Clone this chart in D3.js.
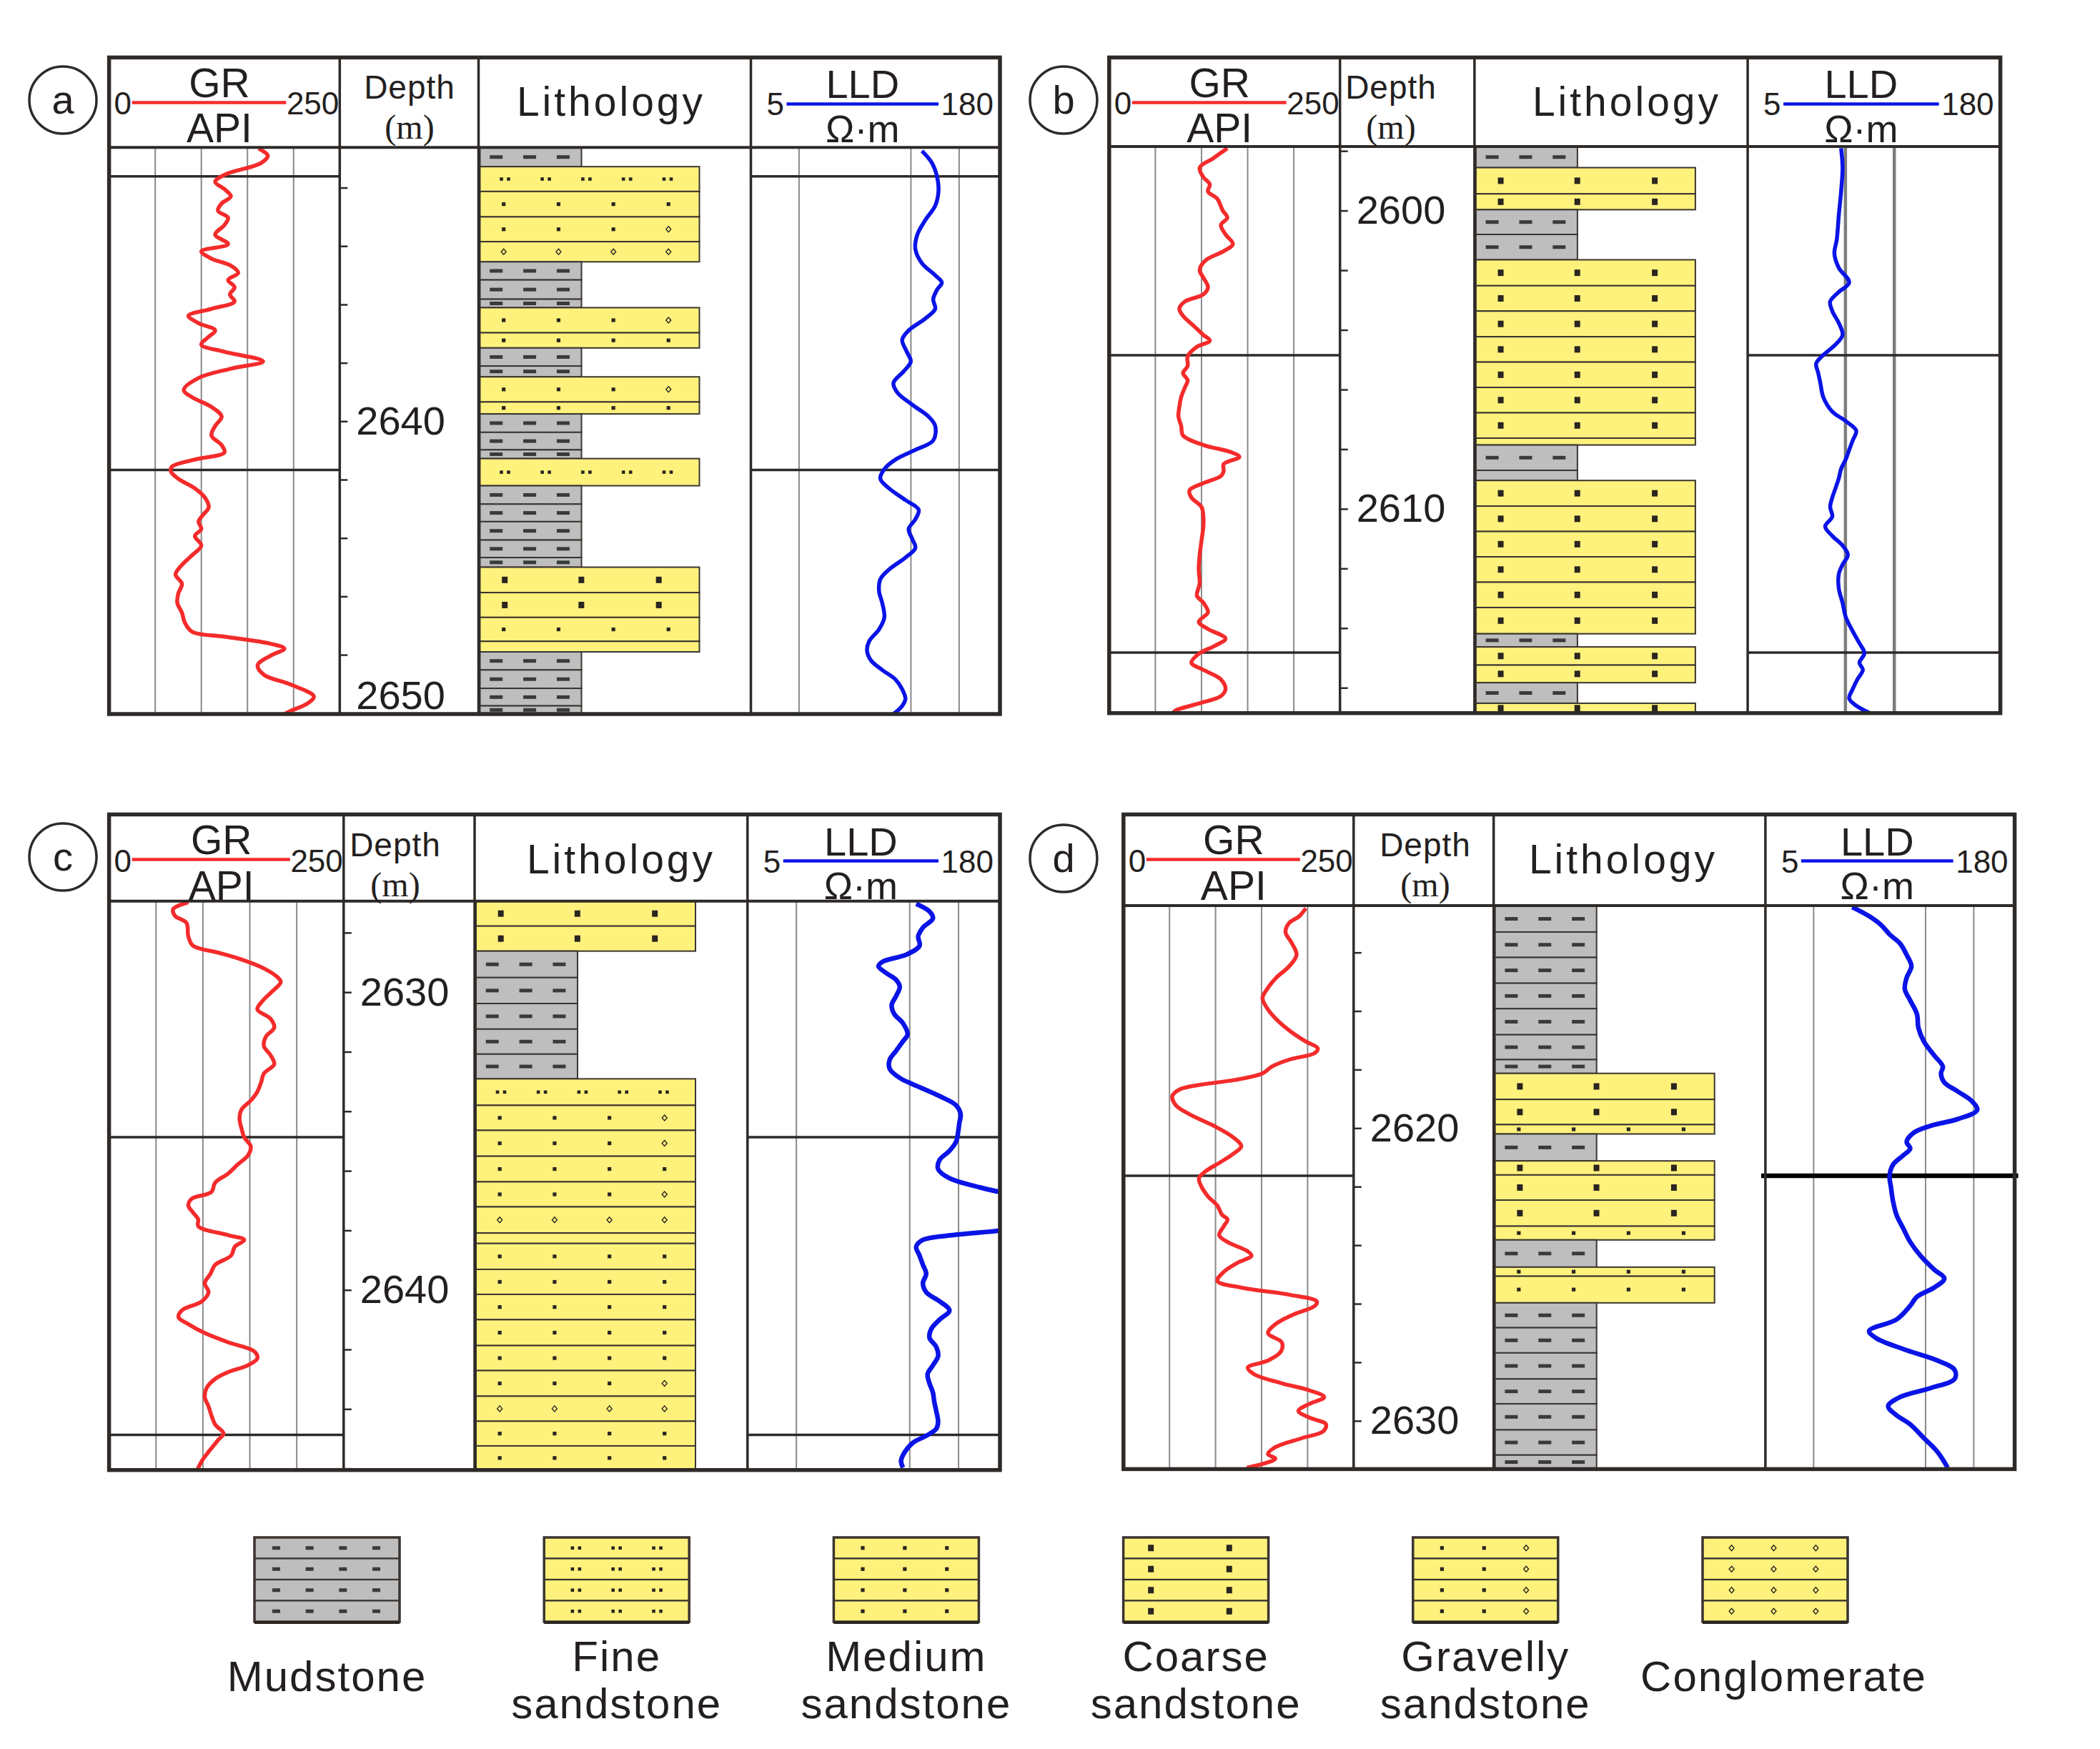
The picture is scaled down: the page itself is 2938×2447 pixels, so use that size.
<!DOCTYPE html>
<html>
<head>
<meta charset="utf-8">
<script src="https://cdn.jsdelivr.net/npm/d3@7"></script>
<style>
  body { margin: 0; background: #fff; }
  svg { display: block; }
  text { fill: #231f20; }
</style>
</head>
<body>
<svg id="chart" width="2938" height="2447" font-family='"Liberation Sans", Arial, sans-serif'></svg>
<script>
// ---------------- data ----------------
const grDomain = [0, 250];
const lldDomain = [5, 180];
const grGrid = [50, 100, 150, 200];
const lldGrid = [10, 50, 100];
const lldGridB = [20, 40];

// panel a
const depthA = [2630.62, 2650.03];
const majorA = [2640, 2650];
const zonesA = [2631.61, 2641.67];
const bedBoundsA = [2630.62, 2631.28, 2632.13, 2633.00, 2633.85, 2634.54, 2635.16, 2635.82, 2636.11, 2636.97,
  2637.49, 2638.11, 2638.48, 2639.34, 2639.75, 2640.38, 2640.98, 2641.28, 2642.21, 2642.84, 2643.44, 2644.07,
  2644.67, 2645.00, 2645.87, 2646.72, 2647.54, 2647.90, 2648.52, 2649.15, 2649.75, 2650.03];
const bedTypesA = ["mud", "fine", "medium", "gravelly", "conglomerate", "mud", "mud", "mud", "gravelly", "medium",
  "mud", "mud", "gravelly", "medium", "mud", "mud", "mud", "fine", "mud", "mud", "mud", "mud", "mud",
  "coarse", "coarse", "medium", "plain", "mud", "mud", "mud", "mud"];
const grA = [[2630.66,162],[2630.90,172],[2631.15,165],[2631.56,125],[2631.80,115],[2632.05,125],[2632.30,132],
  [2632.54,122],[2632.79,118],[2633.03,129],[2633.28,125],[2633.61,115],[2633.93,129],[2634.18,100],[2634.43,111],
  [2634.67,132],[2634.92,140],[2635.16,129],[2635.41,136],[2635.66,131],[2635.90,136],[2636.15,111],[2636.39,86],
  [2636.64,97],[2636.89,115],[2637.13,107],[2637.38,100],[2637.62,125],[2637.95,167],[2638.20,132],[2638.52,97],
  [2638.93,81],[2639.18,90],[2639.51,111],[2639.84,122],[2640.16,115],[2640.49,111],[2640.82,122],[2641.07,125],
  [2641.31,93],[2641.56,68],[2641.72,67],[2641.97,75],[2642.30,93],[2642.62,104],[2642.95,108],[2643.20,102],
  [2643.44,97],[2643.69,100],[2643.93,93],[2644.26,100],[2644.59,90],[2644.92,79],[2645.25,72],[2645.57,79],
  [2645.90,75],[2646.23,74],[2646.56,79],[2646.89,82],[2647.21,90],[2647.38,125],[2647.62,175],[2647.79,190],
  [2648.03,175],[2648.36,161],[2648.69,168],[2649.02,197],[2649.43,222],[2649.67,215],[2649.92,197],[2650.03,190]];
const lldA = [[2630.74,58.6],[2631.15,67.6],[2631.64,72.9],[2632.13,74.3],[2632.62,70.9],[2633.11,61.5],
  [2633.61,54.8],[2634.10,53.3],[2634.59,58.6],[2635.00,70.9],[2635.25,78],[2635.49,72.9],[2635.82,68.9],
  [2636.15,70.9],[2636.48,61.5],[2636.89,48.4],[2637.21,44.1],[2637.62,47.1],[2637.95,49.9],[2638.28,45.3],
  [2638.69,38.9],[2639.02,41.2],[2639.43,50.8],[2639.84,64.4],[2640.16,70.9],[2640.66,68.9],[2640.98,53.3],
  [2641.31,40.1],[2641.64,34.1],[2641.97,32.2],[2642.30,36.5],[2642.70,46.2],[2643.03,55.9],[2643.36,53.3],
  [2643.69,48.4],[2644.02,50.8],[2644.34,53.3],[2644.67,46.2],[2645.08,36.5],[2645.41,32.2],[2645.82,31.6],
  [2646.23,33.1],[2646.72,34.1],[2647.13,31.6],[2647.54,27.4],[2647.87,26.6],[2648.20,28.2],[2648.52,33.1],
  [2648.85,40.1],[2649.18,44.1],[2649.51,46.2],[2649.75,44.1],[2650.03,38.9]];

// panel b
const depthB = [2597.85, 2616.85];
const majorB = [2600, 2610];
const zonesB = [2604.85, 2614.82];
const bedBoundsB = [2597.85, 2598.56, 2599.44, 2599.97, 2600.80, 2601.65, 2602.52, 2603.37, 2604.23, 2605.08,
  2605.93, 2606.78, 2607.63, 2607.86, 2608.71, 2609.05, 2609.91, 2610.76, 2611.61, 2612.46, 2613.31, 2614.19,
  2614.63, 2615.24, 2615.83, 2616.52, 2616.85];
const bedTypesB = ["mud", "coarse", "coarse", "mud", "mud", "coarse", "coarse", "coarse", "coarse", "coarse",
  "coarse", "coarse", "plain", "mud", "mudPlain", "coarse", "coarse", "coarse", "coarse", "coarse", "coarse",
  "mud", "coarse", "coarse", "mud", "coarse"];
const grB = [[2597.91,128],[2598.24,113],[2598.56,98],[2598.88,102],[2599.12,109],[2599.36,107],[2599.60,117],
  [2600.00,123],[2600.24,128],[2600.48,121],[2600.80,126],[2601.12,134],[2601.36,124],[2601.68,104],[2602.00,98],
  [2602.25,102],[2602.57,107],[2602.81,102],[2603.05,82],[2603.29,76],[2603.53,80],[2603.85,91],[2604.17,102],
  [2604.36,109],[2604.57,95],[2604.89,85],[2605.21,85],[2605.45,80],[2605.69,85],[2605.93,82],[2606.25,78],
  [2606.58,76],[2606.90,75],[2607.22,78],[2607.54,80],[2607.86,102],[2608.10,132],[2608.26,141],[2608.50,124],
  [2608.74,124],[2608.90,121],[2609.14,102],[2609.38,87],[2609.62,89],[2609.94,100],[2610.26,102],[2610.59,102],
  [2611.07,100],[2611.55,98],[2612.03,97],[2612.51,98],[2612.91,95],[2613.15,102],[2613.47,107],[2613.79,97],
  [2614.03,107],[2614.35,126],[2614.60,114],[2614.84,98],[2615.16,89],[2615.40,102],[2615.72,121],[2616.04,126],
  [2616.28,121],[2616.52,98],[2616.76,72],[2616.85,69]];
const lldB = [[2597.91,18.8],[2598.56,19.2],[2599.36,18.8],[2600.16,18.2],[2600.96,17.7],[2601.44,17.1],
  [2601.92,18.2],[2602.41,21.1],[2602.73,18.2],[2603.05,16.1],[2603.37,16.6],[2603.77,18.2],[2604.17,19.2],
  [2604.49,17.4],[2604.89,14.3],[2605.13,13.2],[2605.45,13.6],[2605.77,14.0],[2606.25,14.6],[2606.74,16.6],
  [2607.06,20.1],[2607.38,23.3],[2607.70,22.2],[2608.02,21.1],[2608.34,20.1],[2608.66,18.8],[2608.98,18.2],
  [2609.30,17.4],[2609.62,16.6],[2609.94,16.1],[2610.26,16.6],[2610.59,15.0],[2610.91,16.6],[2611.23,19.2],
  [2611.55,20.7],[2611.87,19.2],[2612.19,18.2],[2612.67,18.2],[2613.15,19.2],[2613.63,20.1],[2614.11,22.2],
  [2614.51,24.4],[2614.84,26.2],[2615.16,24.4],[2615.40,25.6],[2615.72,23.7],[2616.04,22.2],[2616.36,21.1],
  [2616.60,23.3],[2616.85,28.3]];

// panel c
const depthC = [2626.94, 2646.05];
const majorC = [2630, 2640];
const zonesC = [2634.87, 2644.87];
const bedBoundsC = [2626.94, 2627.78, 2628.62, 2629.51, 2630.38, 2631.24, 2632.08, 2632.91, 2633.80, 2634.64,
  2635.51, 2636.37, 2637.21, 2638.09, 2638.44, 2639.31, 2640.15, 2641.00, 2641.87, 2642.71, 2643.57, 2644.41,
  2645.24, 2646.05];
const bedTypesC = ["coarse", "coarse", "mud", "mud", "mud", "mud", "mud", "fine", "gravelly", "gravelly",
  "medium", "gravelly", "conglomerate", "plain", "medium", "medium", "medium", "medium", "medium", "gravelly",
  "conglomerate", "medium", "medium"];
const grC = [[2626.98,84.5],[2627.21,68.3],[2627.44,70.4],[2627.67,82.4],[2628.13,84.5],[2628.44,89.4],[2628.67,116],
  [2628.90,141],[2629.20,165],[2629.51,180],[2629.66,183],[2629.97,174],[2630.28,164],[2630.58,158],[2630.89,172],
  [2631.19,176],[2631.50,167],[2631.81,165],[2632.11,172],[2632.42,176],[2632.73,165],[2633.03,162],[2633.34,158],
  [2633.64,151],[2633.95,141],[2634.26,139],[2634.56,141],[2634.87,144],[2635.18,151],[2635.48,148],[2635.79,137],
  [2636.09,127],[2636.40,113],[2636.71,109],[2636.94,88],[2637.17,84.5],[2637.40,89.4],[2637.63,95],[2637.86,95],
  [2638.16,127],[2638.32,144],[2638.55,134],[2638.85,130],[2639.16,113],[2639.46,108],[2639.77,102],[2640.08,106],
  [2640.38,99],[2640.69,77.5],[2640.92,74],[2641.15,84.5],[2641.45,102],[2641.76,127],[2642.07,155],[2642.30,158],
  [2642.53,148],[2642.76,127],[2642.99,113],[2643.29,104],[2643.60,102],[2643.91,106],[2644.21,109],[2644.52,113],
  [2644.82,122],[2645.05,116],[2645.44,106],[2645.74,99],[2646.05,94]];
const lldC = [[2627.03,54.8],[2627.29,66.2],[2627.52,69.5],[2627.83,60.3],[2628.13,56.4],[2628.44,57.5],
  [2628.74,47.6],[2628.97,34.2],[2629.13,32.1],[2629.36,35.9],[2629.59,41.3],[2629.82,43.4],[2630.12,41.3],
  [2630.43,38.7],[2630.74,40.2],[2631.04,45.4],[2631.42,48.5],[2631.65,45.4],[2631.96,41.3],[2632.27,37.6],
  [2632.57,37.6],[2632.88,43.4],[2633.19,57.5],[2633.49,76.3],[2633.80,96.6],[2634.10,103],[2634.41,101],
  [2634.72,99.3],[2635.02,96.6],[2635.33,87.9],[2635.64,76.3],[2635.94,74.8],[2636.25,87.9],[2636.55,134],
  [2636.71,180],[2636.86,300],[2637.86,300],[2638.01,180],[2638.16,92],[2638.32,60.3],[2638.55,54.8],
  [2638.85,57.5],[2639.16,60.3],[2639.46,63.2],[2639.77,60.3],[2640.08,63.2],[2640.38,76.3],[2640.69,87.9],
  [2641.00,76.3],[2641.30,68.1],[2641.61,66.2],[2641.91,72.8],[2642.22,74.8],[2642.53,69.5],[2642.83,64.4],
  [2643.14,66.2],[2643.45,69.5],[2643.75,70.8],[2644.06,72.8],[2644.44,74.8],[2644.67,72.8],[2644.90,63.2],
  [2645.13,52.4],[2645.44,46.7],[2645.74,44.2],[2645.97,45.4]];

// panel d
const depthD = [2612.40, 2631.65];
const majorD = [2620, 2630];
const zonesD = [2621.63];
const bedBoundsD = [2612.40, 2613.30, 2614.17, 2615.05, 2615.92, 2616.81, 2617.66, 2618.13, 2619.02, 2619.88,
  2620.20, 2621.12, 2621.60, 2622.46, 2623.35, 2623.82, 2624.75, 2625.06, 2625.97, 2626.82, 2627.68, 2628.57,
  2629.42, 2630.31, 2631.17, 2631.65];
const bedTypesD = ["mud", "mud", "mud", "mud", "mud", "mud", "mud", "coarse", "coarse", "medium", "mud",
  "coarse", "coarse", "coarse", "medium", "mud", "medium", "medium", "mud", "mud", "mud", "mud", "mud", "mud", "mud"];
const grD = [[2612.49,198],[2612.76,191],[2612.99,180],[2613.30,176],[2613.69,183],[2614.08,188],[2614.47,180],
  [2614.86,166],[2615.25,156],[2615.56,151],[2615.95,157],[2616.34,168],[2616.73,183],[2617.04,198],[2617.27,211],
  [2617.43,208],[2617.66,180],[2617.90,161],[2618.13,151],[2618.36,120],[2618.52,83],[2618.68,61],[2618.91,53],
  [2619.22,57],[2619.53,72],[2619.92,98],[2620.31,119],[2620.62,128],[2620.86,120],[2621.17,105],[2621.48,89],
  [2621.71,82],[2622.02,85],[2622.34,92],[2622.65,102],[2622.96,107],[2623.12,113],[2623.35,109],[2623.66,104],
  [2623.89,113],[2624.21,135],[2624.36,139],[2624.60,124],[2624.91,109],[2625.22,102],[2625.45,128],[2625.69,180],
  [2625.92,210],[2626.07,208],[2626.39,183],[2626.70,165],[2627.01,157],[2627.32,172],[2627.63,171],[2627.94,157],
  [2628.18,135],[2628.41,142],[2628.72,172],[2628.96,202],[2629.19,218],[2629.42,202],[2629.66,190],[2629.89,202],
  [2630.12,220],[2630.36,217],[2630.59,194],[2630.90,165],[2631.14,157],[2631.29,165],[2631.45,154],[2631.60,134]];
const lldD = [[2612.45,17.4],[2612.76,22.2],[2613.07,26.5],[2613.38,29.8],[2613.69,34.6],[2614.08,38.1],
  [2614.47,40.8],[2614.86,38.1],[2615.25,37.1],[2615.64,40.1],[2616.11,44.2],[2616.57,45.1],[2617.04,48.8],
  [2617.51,56.5],[2617.90,64.1],[2618.13,62.4],[2618.44,65.5],[2618.75,79.6],[2619.07,96.9],[2619.38,105],
  [2619.69,79.6],[2619.92,53.8],[2620.16,42.1],[2620.47,38.1],[2620.70,40.1],[2620.93,36.3],[2621.25,31.3],
  [2621.64,29.8],[2622.02,30.4],[2622.49,31.3],[2622.96,32.9],[2623.43,36.3],[2623.89,40.1],[2624.36,46.5],
  [2624.83,56.5],[2625.14,65.5],[2625.45,56.5],[2625.76,44.2],[2626.07,40.1],[2626.54,32.9],[2626.93,22.2],
  [2627.17,24.5],[2627.55,36.3],[2627.94,59.3],[2628.26,75.9],[2628.57,75.9],[2628.88,53.8],[2629.19,34.6],
  [2629.50,29.2],[2629.81,32.9],[2630.12,40.1],[2630.59,48.8],[2631.06,59.3],[2631.60,68.7]];

// legend
const legendTypes = ["mud", "fine", "medium", "coarse", "gravelly", "conglomerate"];
const legendNames = [["Mudstone"], ["Fine", "sandstone"], ["Medium", "sandstone"], ["Coarse", "sandstone"],
  ["Gravelly", "sandstone"], ["Conglomerate"]];

// ---------------- layout / style ----------------
const ink = "#2e2a28";
const yellow = "#fff27c";
const gray = "#bebebe";
const serif = '"Liberation Serif", "Times New Roman", serif';
const layout = {
  a: { x: [152.6, 475.3, 669.5, 1050.5, 1399], top: 80.4, head: 206.2, bot: 999, circle: [88, 140], depthTxt: 573, lithTxt: 855 },
  b: { x: [1551.8, 1874.7, 2062.9, 2445.1, 2798.6], top: 80.4, head: 204.9, bot: 997.7, circle: [1488, 140], depthTxt: 1946, lithTxt: 2276 },
  c: { x: [152.6, 480.8, 664, 1045.8, 1399], top: 1139.5, head: 1260.7, bot: 2056.7, circle: [88, 1199], depthTxt: 553, lithTxt: 869 },
  d: { x: [1571.8, 1893.8, 2089.7, 2469.9, 2818.6], top: 1139.5, head: 1267.1, bot: 2055.4, circle: [1488, 1201], depthTxt: 1994, lithTxt: 2271 }
};
const mudW = 142, sandW = 307;

const panels = [
  { id: "a", depth: depthA, major: majorA, zones: zonesA, bounds: bedBoundsA, types: bedTypesA, gr: grA, lld: lldA, lldGrid: lldGrid },
  { id: "b", depth: depthB, major: majorB, zones: zonesB, bounds: bedBoundsB, types: bedTypesB, gr: grB, lld: lldB, lldGrid: lldGridB },
  { id: "c", depth: depthC, major: majorC, zones: zonesC, bounds: bedBoundsC, types: bedTypesC, gr: grC, lld: lldC, lldGrid: lldGrid },
  { id: "d", depth: depthD, major: majorD, zones: zonesD, bounds: bedBoundsD, types: bedTypesD, gr: grD, lld: lldD, lldGrid: lldGrid }
];

// symbol positions, as fractions of bed width
const bedMarks = {
  mud: [0.16, 0.49, 0.82],
  fine: [0.114, 0.30, 0.485, 0.67, 0.855],
  medium: [0.108, 0.358, 0.608, 0.859],
  gravelly: [0.108, 0.358, 0.608, 0.859],
  conglomerate: [0.108, 0.358, 0.608, 0.859],
  coarse: [0.113, 0.462, 0.815]
};
const legendMarks = {
  mud: [0.15, 0.38, 0.61, 0.84],
  fine: [0.22, 0.5, 0.78],
  medium: [0.2, 0.49, 0.78],
  coarse: [0.19, 0.73],
  gravelly: [0.2, 0.49, 0.78],
  conglomerate: [0.2, 0.49, 0.78]
};

const svg = d3.select("#chart");

function isMud(type) { return type === "mud" || type === "mudPlain"; }

// draws the little lithology symbols of one bed row
function drawMarks(g, type, x0, w, yc, fracs, dashW) {
  if (!fracs) return;
  fracs.forEach(function (f, i) {
    const cx = x0 + f * w;
    const last = i === fracs.length - 1;
    if (type === "mud") {
      g.append("rect").attr("x", cx - dashW / 2).attr("y", yc - 2.5)
        .attr("width", dashW).attr("height", 5).attr("fill", "#3a3a3a");
    } else if (type === "fine") {
      [-5, 5].forEach(dx => g.append("rect").attr("x", cx + dx - 2.3).attr("y", yc - 2.3)
        .attr("width", 4.6).attr("height", 4.6).attr("fill", "#2a2520"));
    } else if (type === "medium" || (type === "gravelly" && !last)) {
      g.append("rect").attr("x", cx - 2.6).attr("y", yc - 2.6)
        .attr("width", 5.2).attr("height", 5.2).attr("fill", "#2a2520");
    } else if (type === "coarse") {
      g.append("rect").attr("x", cx - 4).attr("y", yc - 4.5)
        .attr("width", 8).attr("height", 9).attr("fill", "#2a2520");
    } else {
      g.append("path")
        .attr("d", `M${cx},${yc - 4}L${cx + 3.5},${yc}L${cx},${yc + 4}L${cx - 3.5},${yc}Z`)
        .attr("fill", "none").attr("stroke", "#2a2520").attr("stroke-width", 1.4);
    }
  });
}

function drawPanel(p) {
  const L = layout[p.id];
  const [x0, x1, x2, x3, x4] = L.x;
  const g = svg.append("g").attr("id", "panel-" + p.id);

  const y = d3.scaleLinear().domain(p.depth).range([L.head, L.bot]);
  const xGR = d3.scaleLinear().domain(grDomain).range([x0, x1]);
  const xLLD = d3.scaleLog().domain(lldDomain).range([x3, x4]);

  // grid lines
  g.append("g").selectAll("line").data(grGrid).enter().append("line")
    .attr("x1", d => xGR(d)).attr("x2", d => xGR(d))
    .attr("y1", L.head).attr("y2", L.bot)
    .attr("stroke", "#8a8a8a").attr("stroke-width", 2);
  g.append("g").selectAll("line").data(p.lldGrid).enter().append("line")
    .attr("x1", d => xLLD(d)).attr("x2", d => xLLD(d))
    .attr("y1", L.head).attr("y2", L.bot)
    .attr("stroke", p.id === "b" ? "#7d7d7d" : "#8a8a8a")
    .attr("stroke-width", p.id === "b" ? 4.5 : 2);

  // zone boundaries
  p.zones.forEach(function (z) {
    g.append("line").attr("x1", x0).attr("x2", x1).attr("y1", y(z)).attr("y2", y(z))
      .attr("stroke", ink).attr("stroke-width", 3.5);
    const heavy = p.id === "d";
    g.append("line").attr("x1", heavy ? x3 - 6 : x3).attr("x2", heavy ? x4 + 5 : x4)
      .attr("y1", y(z)).attr("y2", y(z))
      .attr("stroke", heavy ? "#000" : ink).attr("stroke-width", heavy ? 6.5 : 3.5);
  });

  // lithology column
  const beds = p.types.map((t, i) => ({ type: t, top: p.bounds[i], base: p.bounds[i + 1] }));
  const lith = g.append("g");
  beds.forEach(function (b) {
    const w = isMud(b.type) ? mudW : sandW;
    const yt = y(b.top), h = y(b.base) - y(b.top);
    lith.append("rect").attr("x", x2 + 2).attr("y", yt).attr("width", w).attr("height", h)
      .attr("fill", isMud(b.type) ? gray : yellow)
      .attr("stroke", "#3b3531").attr("stroke-width", 2);
    if (h > 10) drawMarks(lith, b.type, x2 + 2, w, yt + h / 2, bedMarks[b.type], 18);
  });

  // curves
  const clipGR = "clip-gr-" + p.id, clipLLD = "clip-lld-" + p.id;
  const defs = g.append("defs");
  defs.append("clipPath").attr("id", clipGR).append("rect")
    .attr("x", x0).attr("y", L.head).attr("width", x1 - x0).attr("height", L.bot - L.head);
  defs.append("clipPath").attr("id", clipLLD).append("rect")
    .attr("x", x3).attr("y", L.head).attr("width", x4 - x3).attr("height", L.bot - L.head);

  const grLine = d3.line().x(d => xGR(d[1])).y(d => y(d[0])).curve(d3.curveCatmullRom.alpha(0.5));
  const lldLine = d3.line().x(d => xLLD(d[1])).y(d => y(d[0])).curve(d3.curveCatmullRom.alpha(0.5));
  g.append("path").attr("d", grLine(p.gr)).attr("clip-path", `url(#${clipGR})`)
    .attr("fill", "none").attr("stroke", "#f42b2b").attr("stroke-width", 5.5);
  g.append("path").attr("d", lldLine(p.lld)).attr("clip-path", `url(#${clipLLD})`)
    .attr("fill", "none").attr("stroke", "#0a14e6").attr("stroke-width", p.id === "a" || p.id === "b" ? 5.5 : 6.5);

  // depth axis
  const ticks = d3.range(Math.ceil(p.depth[0] / 2) * 2, p.depth[1] + 0.01, 2);
  const axis = d3.axisRight(y).tickValues(ticks).tickSize(11).tickPadding(12)
    .tickFormat(d => p.major.includes(d) ? d : "");
  const ag = g.append("g").attr("transform", `translate(${x1},0)`).call(axis);
  ag.attr("font-family", null).attr("font-size", null);
  ag.select(".domain").remove();
  ag.selectAll("line").attr("stroke", ink).attr("stroke-width", 2.5);
  ag.selectAll("text").attr("font-size", 56).attr("fill", "#111");
  ag.selectAll(".tick").filter(d => y(d) > L.bot - 22).select("text")
    .attr("dy", null).attr("y", d => L.bot - 8 - y(d));

  // frame
  const fr = g.append("g").attr("stroke", ink).attr("fill", "none");
  [x1, x2, x3].forEach(x => fr.append("line").attr("x1", x).attr("x2", x)
    .attr("y1", L.top).attr("y2", L.bot).attr("stroke-width", 3.5));
  fr.append("line").attr("x1", x0).attr("x2", x4).attr("y1", L.head).attr("y2", L.head).attr("stroke-width", 4);
  fr.append("rect").attr("x", x0).attr("y", L.top).attr("width", x4 - x0).attr("height", L.bot - L.top)
    .attr("stroke-width", 5.5);

  // header
  const t = L.top;
  const grMid = (x0 + x1) / 2 - 7;
  g.append("line").attr("x1", x0 + 32).attr("x2", x1 - 75).attr("y1", t + 63).attr("y2", t + 63)
    .attr("stroke", "#f42b2b").attr("stroke-width", 4.5);
  g.append("text").attr("x", x0 + 7).attr("y", t + 80).attr("font-size", 44).text(grDomain[0]);
  g.append("text").attr("x", x1 - 1).attr("y", t + 80).attr("font-size", 44)
    .attr("text-anchor", "end").text(grDomain[1]);
  g.append("text").attr("x", grMid).attr("y", t + 55.5).attr("font-size", 57)
    .attr("text-anchor", "middle").text("GR");
  g.append("text").attr("x", grMid).attr("y", t + 119).attr("font-size", 57)
    .attr("text-anchor", "middle").text("API");

  g.append("text").attr("x", L.depthTxt).attr("y", t + 58).attr("font-size", 46)
    .attr("text-anchor", "middle").attr("letter-spacing", 1).text("Depth");
  g.append("text").attr("x", L.depthTxt).attr("y", t + 114).attr("font-size", 48)
    .style("font-family", serif).attr("text-anchor", "middle").text("(m)");

  g.append("text").attr("x", L.lithTxt).attr("y", t + 82).attr("font-size", 57)
    .attr("letter-spacing", 4).attr("text-anchor", "middle").text("Lithology");

  const lx0 = x3 + 50, lx1 = x4 - 86;
  g.append("line").attr("x1", lx0).attr("x2", lx1).attr("y1", t + 65).attr("y2", t + 65)
    .attr("stroke", "#0a14e6").attr("stroke-width", 4.5);
  g.append("text").attr("x", x3 + 22).attr("y", t + 81).attr("font-size", 44).text(lldDomain[0]);
  g.append("text").attr("x", x4 - 9).attr("y", t + 81).attr("font-size", 44)
    .attr("text-anchor", "end").text(lldDomain[1]);
  g.append("text").attr("x", (lx0 + lx1) / 2).attr("y", t + 57).attr("font-size", 56)
    .attr("text-anchor", "middle").text("LLD");
  g.append("text").attr("x", (lx0 + lx1) / 2).attr("y", t + 118.5).attr("font-size", 54)
    .attr("text-anchor", "middle").text("Ω·m");

  // panel letter
  g.append("circle").attr("cx", L.circle[0]).attr("cy", L.circle[1]).attr("r", 47)
    .attr("fill", "#fff").attr("stroke", ink).attr("stroke-width", 3.5);
  g.append("text").attr("x", L.circle[0]).attr("y", L.circle[1] + 19).attr("font-size", 56)
    .attr("text-anchor", "middle").text(p.id);
}

panels.forEach(drawPanel);

// ---------------- legend ----------------
const legendX = d3.scalePoint().domain(legendTypes).range([356, 2382]);
const boxW = 203, boxTop = 2151, rowH = 29.5;
const lg = svg.append("g").attr("id", "legend");
legendTypes.forEach(function (type, i) {
  const bx = legendX(type);
  for (let r = 0; r < 4; r++) {
    const yt = boxTop + r * rowH;
    lg.append("rect").attr("x", bx).attr("y", yt).attr("width", boxW).attr("height", rowH)
      .attr("fill", type === "mud" ? gray : yellow).attr("stroke", "#3b3531").attr("stroke-width", 2.2);
    drawMarks(lg, type, bx, boxW, yt + rowH / 2, legendMarks[type], 11);
  }
  lg.append("rect").attr("x", bx).attr("y", boxTop).attr("width", boxW).attr("height", rowH * 4)
    .attr("fill", "none").attr("stroke", "#3b3531").attr("stroke-width", 3.5);
  lg.append("line").attr("x1", bx).attr("x2", bx + boxW).attr("y1", boxTop + rowH * 4 + 1)
    .attr("y2", boxTop + rowH * 4 + 1).attr("stroke", "#2a2520").attr("stroke-width", 4);

  const lines = legendNames[i];
  const cx = bx + boxW / 2 + (lines.length === 1 && i > 0 ? 12 : 0);
  const baselines = lines.length === 1 ? [2366] : [2338, 2404];
  lines.forEach((s, k) => lg.append("text").attr("x", cx).attr("y", baselines[k])
    .attr("font-size", 60).attr("letter-spacing", 2).attr("fill", "#333")
    .attr("text-anchor", "middle").text(s));
});
</script>
</body>
</html>
